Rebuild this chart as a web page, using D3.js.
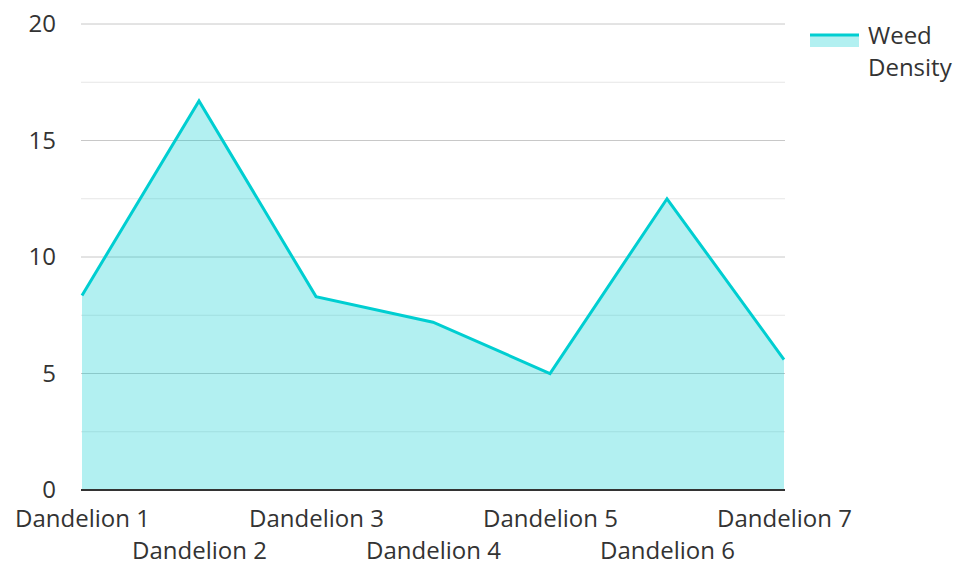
<!DOCTYPE html>
<html>
<head>
<meta charset="utf-8">
<script src="https://cdn.jsdelivr.net/npm/d3@7"></script>
<style>
  html, body { margin: 0; padding: 0; background: #fff; }
  svg { display: block; font-family: "Open Sans", sans-serif; }
</style>
</head>
<body>
<svg id="chart" width="958" height="562"></svg>
<script>
const categories = ["Dandelion 1", "Dandelion 2", "Dandelion 3", "Dandelion 4", "Dandelion 5", "Dandelion 6", "Dandelion 7"];
const weedDensity = [8.35, 16.7, 8.3, 7.2, 5.0, 12.5, 5.6];
const seriesName = ["Weed", "Density"];
const yMajorTicks = [0, 5, 10, 15, 20];
const yMinorTicks = [2.5, 7.5, 12.5, 17.5];

(function () {
const svg = d3.select("#chart");
const mLeft = 82, mRight = 784, mTop = 24, mBottom = 490;
const lineColor = "#00CED1";
const fontSize = 24;

const x = d3.scalePoint().domain(categories).range([mLeft, mRight]);
const y = d3.scaleLinear().domain([0, 20]).range([mBottom, mTop]);

// minor grid
svg.append("g").selectAll("line").data(yMinorTicks).join("line")
  .attr("x1", mLeft - 1).attr("x2", mRight + 1)
  .attr("y1", d => y(d)).attr("y2", d => y(d))
  .attr("stroke", "#e6e6e6").attr("stroke-width", 1);
// major grid
svg.append("g").selectAll("line").data(yMajorTicks.filter(d => d > 0)).join("line")
  .attr("x1", mLeft - 1).attr("x2", mRight + 1)
  .attr("y1", d => y(d)).attr("y2", d => y(d))
  .attr("stroke", "#c8c8c8").attr("stroke-width", 1);

// area
const area = d3.area().x((d, i) => x(categories[i])).y0(y(0)).y1(d => y(d));
svg.append("path").datum(weedDensity)
  .attr("d", area).attr("fill", lineColor).attr("fill-opacity", 0.3);

// line
const line = d3.line().x((d, i) => x(categories[i])).y(d => y(d));
svg.append("path").datum(weedDensity)
  .attr("d", line).attr("fill", "none")
  .attr("stroke", lineColor).attr("stroke-width", 3).attr("stroke-linejoin", "miter");

// x axis line
svg.append("line")
  .attr("x1", mLeft - 1).attr("x2", mRight + 1)
  .attr("y1", y(0)).attr("y2", y(0))
  .attr("stroke", "#333").attr("stroke-width", 2);

// y labels
const yAxis = d3.axisLeft(y).tickValues(yMajorTicks).tickSize(0).tickPadding(26);
const yg = svg.append("g").attr("transform", `translate(${mLeft},0)`).call(yAxis);
yg.select(".domain").remove();
yg.selectAll("text").attr("font-size", fontSize).attr("fill", "#333")
  .attr("font-family", "Open Sans, sans-serif");

// x labels
const xAxis = d3.axisBottom(x).tickSize(0).tickPadding(0);
const xg = svg.append("g").attr("transform", `translate(0,${mBottom})`).call(xAxis);
xg.select(".domain").remove();
xg.selectAll("text")
  .attr("font-size", fontSize).attr("fill", "#333")
  .attr("font-family", "Open Sans, sans-serif")
  .attr("dy", null)
  .attr("y", (d, i) => i % 2 === 0 ? 37 : 69);

// legend
const lg = svg.append("g");
lg.append("rect").attr("x", 810).attr("y", 34).attr("width", 49).attr("height", 13)
  .attr("fill", lineColor).attr("fill-opacity", 0.3);
lg.append("line").attr("x1", 810).attr("x2", 859).attr("y1", 35).attr("y2", 35)
  .attr("stroke", lineColor).attr("stroke-width", 3);
lg.selectAll("text").data(seriesName).join("text")
  .attr("x", 868).attr("y", (d, i) => 44 + i * 32)
  .attr("font-size", fontSize).attr("fill", "#333")
  .text(d => d);
})();
</script>
</body>
</html>
